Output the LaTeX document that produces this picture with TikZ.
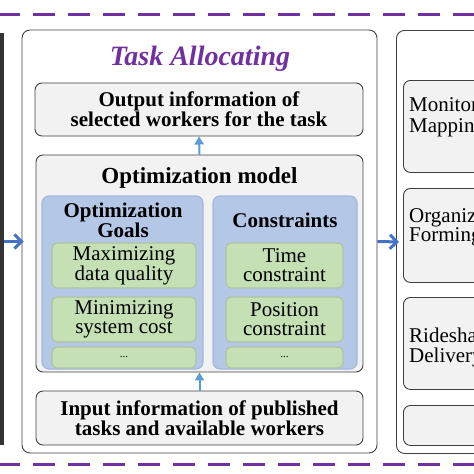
\documentclass[tikz,border=0pt]{standalone}
\usepackage{fontspec}
\setmainfont{Liberation Serif}
\usetikzlibrary{arrows.meta}

\definecolor{tapurple}{HTML}{7030A0}
\definecolor{boxline}{HTML}{404040}
\definecolor{boxgray}{HTML}{F2F2F2}
\definecolor{panelblue}{HTML}{B4C7E7}
\definecolor{panelline}{HTML}{A3B9DE}
\definecolor{itemgreen}{HTML}{C5E0B4}
\definecolor{itemline}{HTML}{AFC4A3}
\definecolor{flowblue}{HTML}{4472C4}
\definecolor{stepblue}{HTML}{5B9BD5}

\begin{document}
\begin{tikzpicture}[x=1pt,y=-1pt,
  outerbox/.style={draw=boxline, fill=white, rounded corners=8pt, line width=0.9pt, inner sep=0pt},
  graybox/.style={draw=boxline, fill=boxgray, rounded corners=7pt, line width=0.9pt, inner sep=0pt, align=center},
  panel/.style={draw=panelline, fill=panelblue, rounded corners=7pt, line width=1.2pt, inner sep=0pt},
  item/.style={draw=itemline, fill=itemgreen, rounded corners=5pt, line width=1.2pt, inner sep=0pt, align=center,
    minimum height=45pt, font=\fontsize{21}{19}\selectfont},
  boldtext/.style={font=\fontsize{21}{20}\selectfont\bfseries, align=center, inner sep=0pt},
  flow/.style={draw=flowblue, line width=3pt, -{Straight Barb[length=7pt,width=14pt]}},
  stepup/.style={draw=stepblue, line width=2pt, -{Triangle[length=8pt,width=9pt]}}]
\useasboundingbox (0,0) rectangle (474,474);
\clip (0,0) rectangle (474,474);

%frame lines
\draw[tapurple, line width=3pt, dash pattern=on 22pt off 13pt] (-2,14) -- (480,14);
\draw[tapurple, line width=3pt, dash pattern=on 22pt off 13pt] (-2,464) -- (480,464);
\node[fill=boxline!80!black, minimum width=3.5pt, minimum height=412pt, inner sep=0pt] (prev) at (1.75,239) {};

%task allocating
\node[outerbox, minimum width=355pt, minimum height=423pt] (main) at (199.5,241.5) {};
\node[font=\fontsize{28}{30}\selectfont\bfseries\itshape, text=tapurple, anchor=base, inner sep=0pt] (title) at (200,65) {Task Allocating};
\node[graybox, boldtext, draw=boxline, fill=boxgray, minimum width=328pt, minimum height=53pt] (output) at (199,109.5)
  {Output information of\\selected workers for the task};

%optimization model
\node[graybox, minimum width=327pt, minimum height=217pt] (optmodel) at (199.5,263.5) {};
\node[font=\fontsize{23}{24}\selectfont\bfseries, anchor=base, inner sep=0pt] (optlabel) at (199.5,183) {Optimization model};
\node[panel, minimum width=161pt, minimum height=173pt] (goals) at (122.5,282.5) {};
\node[panel, minimum width=144pt, minimum height=173pt] (cons) at (285,282.5) {};
\node[boldtext, font=\fontsize{21}{18}\selectfont\bfseries] (goalslabel) at (123,220) {Optimization\\Goals};
\node[boldtext, anchor=base] (conslabel) at (285,227) {Constraints};
%goals
\node[item, minimum width=144pt] (goalA) at (124,265.5) {Maximizing\\data quality};
\node[item, minimum width=144pt] (goalB) at (124,319.5) {Minimizing\\system cost};
\node[item, minimum width=144pt, minimum height=21pt, font=\fontsize{11}{12}\selectfont] (goalC) at (124,357.5) {...};
%constraints
\node[item, minimum width=117pt] (consA) at (284.5,265.5) {Time\\constraint};
\node[item, minimum width=117pt] (consB) at (284.5,319.5) {Position\\constraint};
\node[item, minimum width=117pt, minimum height=21pt, font=\fontsize{11}{12}\selectfont] (consC) at (284.5,357.5) {...};

%input
\node[graybox, boldtext, draw=boxline, fill=boxgray, minimum width=327pt, minimum height=54pt] (input) at (199.5,418)
  {Input information of published\\tasks and available workers};

%applications
\node[outerbox, minimum width=100pt, minimum height=423pt, anchor=north west] (scenes) at (396,30) {};
\node[graybox, minimum width=90pt, minimum height=92pt, anchor=north west] (sceneA) at (403,80) {};
\node[graybox, minimum width=90pt, minimum height=94pt, anchor=north west] (sceneB) at (403,188) {};
\node[graybox, minimum width=90pt, minimum height=92pt, anchor=north west] (sceneC) at (403,297) {};
\node[graybox, minimum width=90pt, minimum height=40pt, anchor=north west] (sceneD) at (403,405) {};
\node[font=\fontsize{21}{21}\selectfont, align=left, anchor=base west, inner sep=0pt] (sceneAtext) at (409,132) {Monitoring\\Mapping};
\node[font=\fontsize{21}{19}\selectfont, align=left, anchor=base west, inner sep=0pt] (sceneBtext) at (409,241) {Organizing\\Forming};
\node[font=\fontsize{21}{20}\selectfont, align=left, anchor=base west, inner sep=0pt] (sceneCtext) at (409,362) {Ridesharing\\Delivery};

%arrows
\draw[stepup] (optmodel.north) -- (output.south);
\draw[stepup] (input.north) -- (optmodel.south);
\draw[flow] (prev.east |- main.west) -- ([xshift=2pt]main.west);
\draw[flow] (main.east) -- ([xshift=3pt]scenes.west);
\end{tikzpicture}
\end{document}
